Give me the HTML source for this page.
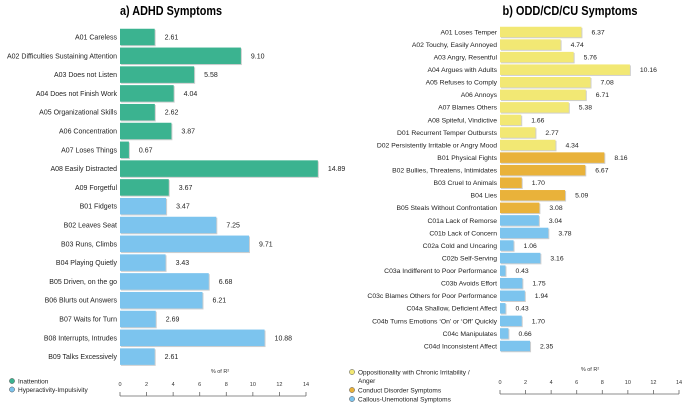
<!DOCTYPE html>
<html><head><meta charset="utf-8"><style>
body{margin:0;background:#fff;}
svg{display:block;font-family:"Liberation Sans",sans-serif;}
</style></head><body>
<svg id="c" width="685" height="405" viewBox="0 0 685 405">
<text x="171" y="15" font-size="13" font-weight="bold" text-anchor="middle" textLength="102" lengthAdjust="spacingAndGlyphs">a) ADHD Symptoms</text>
<text x="570" y="15" font-size="13" font-weight="bold" text-anchor="middle" textLength="135" lengthAdjust="spacingAndGlyphs">b) ODD/CD/CU Symptoms</text>
<g id="gl"></g><g id="gr"></g>
</svg>
<script>
const leftCats=["A01 Careless","A02 Difficulties Sustaining Attention","A03 Does not Listen","A04 Does not Finish Work","A05 Organizational Skills","A06 Concentration","A07 Loses Things","A08 Easily Distracted","A09 Forgetful","B01 Fidgets","B02 Leaves Seat","B03 Runs, Climbs","B04 Playing Quietly","B05 Driven, on the go","B06 Blurts out Answers","B07 Waits for Turn","B08 Interrupts, Intrudes","B09 Talks Excessively"];
const leftVals=[2.61,9.10,5.58,4.04,2.62,3.87,0.67,14.89,3.67,3.47,7.25,9.71,3.43,6.68,6.21,2.69,10.88,2.61];
const leftGroups=[0,0,0,0,0,0,0,0,0,1,1,1,1,1,1,1,1,1];
const rightCats=["A01 Loses Temper","A02 Touchy, Easily Annoyed","A03 Angry, Resentful","A04 Argues with Adults","A05 Refuses to Comply","A06 Annoys","A07 Blames Others","A08 Spiteful, Vindictive","D01 Recurrent Temper Outbursts","D02 Persistently Irritable or Angry Mood","B01 Physical Fights","B02 Bullies, Threatens, Intimidates","B03 Cruel to Animals","B04 Lies","B05 Steals Without Confrontation","C01a Lack of Remorse","C01b Lack of Concern","C02a Cold and Uncaring","C02b Self-Serving","C03a Indifferent to Poor Performance","C03b Avoids Effort","C03c Blames Others for Poor Performance","C04a Shallow, Deficient Affect","C04b Turns Emotions \u2018On\u2019 or \u2018Off\u2019 Quickly","C04c Manipulates","C04d Inconsistent Affect"];
const rightVals=[6.37,4.74,5.76,10.16,7.08,6.71,5.38,1.66,2.77,4.34,8.16,6.67,1.70,5.09,3.08,3.04,3.78,1.06,3.16,0.43,1.75,1.94,0.43,1.70,0.66,2.35];
const rightGroups=[0,0,0,0,0,0,0,0,0,0,1,1,1,1,1,2,2,2,2,2,2,2,2,2,2,2];
const ticks=[0,2,4,6,8,10,12,14];
const leftColors=["#3bb390","#7cc4ee"];
const rightColors=["#f2e874","#e9b23a","#7cc4ee"];
const leftLegend=["Inattention","Hyperactivity-Impulsivity"];
const rightLegend=["Oppositionality with Chronic Irritability /","Conduct Disorder Symptoms","Callous-Unemotional Symptoms"];
const NS="http://www.w3.org/2000/svg";
function mk(p,t,a,txt){const e=document.createElementNS(NS,t);for(const k in a)e.setAttribute(k,a[k]);if(txt!==undefined)e.textContent=txt;p.appendChild(e);return e;}
function panel(g,cats,vals,groups,colors,x0,x14,y0,step,bh,fs,axisY,tickY,rlabelX){
  const sx=v=>x0+(x14-x0)*v/14;
  const sy=i=>y0+i*step;
  cats.forEach((c,i)=>{
    const y=sy(i);
    const t=mk(g,"text",{x:x0-3,y:y+fs*0.35,"font-size":fs,"text-anchor":"end",fill:"#222"},c);
    
    
    mk(g,"rect",{x:x0+1,y:y-bh/2+1,width:sx(vals[i])-x0,height:bh,fill:"#cfcfcf"});
    const r=mk(g,"rect",{x:x0,y:y-bh/2,width:sx(vals[i])-x0,height:bh,fill:colors[groups[i]]});
    
    
    const v=mk(g,"text",{x:sx(vals[i])+10,y:y+fs*0.35,"font-size":fs,fill:"#222"},vals[i].toFixed(2));
    
    
  });
  mk(g,"line",{x1:x0,x2:x14,y1:axisY,y2:axisY,stroke:"#666","stroke-width":0.8});
  ticks.forEach(tk=>{
    mk(g,"line",{x1:sx(tk),x2:sx(tk),y1:axisY-4,y2:axisY,stroke:"#666","stroke-width":0.8});
    const t=mk(g,"text",{x:sx(tk),y:tickY,"font-size":5.5,"text-anchor":"middle",fill:"#333"},tk);
    
    
  });
  const at=mk(g,"text",{x:rlabelX,y:tickY-13,"font-size":5.5,"text-anchor":"middle",fill:"#333"},"% of R\u00B2");
  
  
}
const gl=document.getElementById("gl"),gr=document.getElementById("gr");
panel(gl,leftCats,leftVals,leftGroups,leftColors,120,306,37,18.8,16.5,7,396,386,220);
panel(gr,rightCats,rightVals,rightGroups,rightColors,500,679,32,12.56,10.5,6.8,394,384,590);
leftLegend.forEach((l,i)=>{
  const y=381+i*8.5;
  const d=mk(gl,"circle",{cx:12,cy:y,r:2.6,fill:leftColors[i],stroke:"#555","stroke-width":0.5});
  
  
  const t=mk(gl,"text",{x:18,y:y+2.3,"font-size":6.5,fill:"#222"},l);
  
  
});
const ry=[372,390,399];
rightLegend.forEach((l,i)=>{
  const y=ry[i];
  const d=mk(gr,"circle",{cx:352,cy:y,r:2.6,fill:rightColors[i],stroke:"#555","stroke-width":0.5});
  
  
  const t=mk(gr,"text",{x:358,y:y+2.3,"font-size":6.5,fill:"#222"},l);
  
  
});
const an=mk(gr,"text",{x:358,y:383,"font-size":6.5,fill:"#222"},"Anger");


</script>
</body></html>
